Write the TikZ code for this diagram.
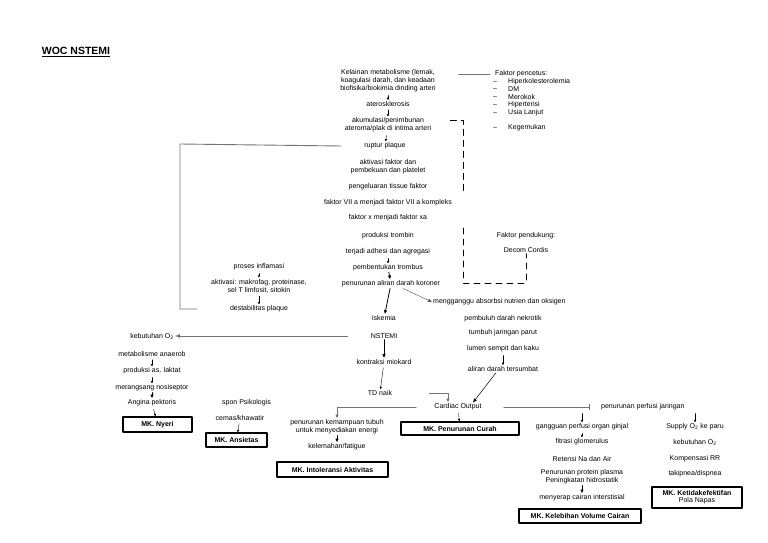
\documentclass[tikz,border=0pt]{standalone}
\usepackage{fontspec}
\setmainfont{Liberation Sans}
\usetikzlibrary{arrows.meta}
\usetikzlibrary{calc}

\begin{document}
\begin{tikzpicture}[line cap=round,line join=round,>={Latex[length=4pt,width=3.5pt]},x=1pt,y=-1pt,
  txt/.style={font=\fontsize{7}{8}\selectfont,align=center,inner sep=1pt},
  mkbox/.style={draw,line width=1.2pt,font=\fontsize{7}{8}\selectfont\bfseries,align=center,inner sep=1pt},
  gline/.style={draw=black!55,line width=0.9pt},
  dline/.style={line width=0.8pt,dash pattern=on 6pt off 5pt},
  tinytip/.style={-{Latex[length=2.5pt,width=2.5pt]},line width=0.4pt,shorten <=2pt}]
\useasboundingbox (0,0) rectangle (768,543);
%\draw[red] (0,0) rectangle (768,543);
\node[font=\fontsize{10.5}{11}\selectfont\bfseries,inner sep=0pt] (title) at (76,52) {\underline{WOC NSTEMI}};

% jalur utama
\node[txt] (kelainan) at (388,81) {Kelainan metabolisme (lemak,\\koagulasi darah, dan keadaan\\biofisika/biokimia dinding arteri};
\node[txt] (ateros) at (388,104) {aterosklerosis};
\node[txt] (akumulasi) at (388,125) {akumulasi/penimbunan\\ateroma/plak di intima arteri};
\node[txt] (ruptur) at (385,146) {ruptur plaque};
\node[txt] (aktivasi) at (388,167) {aktivasi faktor dan\\pembekuan dan platelet};
\node[txt] (tissue) at (388,187) {pengeluaran tissue faktor};
\node[txt] (faktorVII) at (388,203) {faktor VII a menjadi faktor VII a  kompleks};
\node[txt] (faktorX) at (388,218) {faktor x menjadi faktor xa};
\node[txt] (trombin) at (388,236) {produksi  trombin};
\node[txt] (adhesi) at (388,252) {terjadi adhesi dan agregasi};
\node[txt] (trombus) at (388,268) {pembentukan trombus};
\node[txt] (aliran) at (391,284) {penurunan aliran darah koroner};
\node[txt] (iskemia) at (384,318) {iskemia};
\node[txt] (nstemi) at (384,336) {NSTEMI};
\node[txt] (kontraksi) at (384,362) {kontraksi miokard};
\node[txt] (tdnaik) at (380,393) {TD naik};

% faktor pencetus / pendukung
\node[txt,anchor=west] (pencetus) at (494,74) {Faktor pencetus:};
\foreach \y/\isi in {82/Hiperkolesterolemia,89/DM,97/Merokok,105/Hipertensi,113/Usia Lanjut,128/Kegemukan}{
  \node[txt,anchor=west] at (492,\y) {--};
  \node[txt,anchor=west] at (507,\y) {\isi};
}
\node[txt] (pendukung) at (526,236) {Faktor pendukung:};
\node[txt] (decom) at (526,250) {Decom Cordis};

% kiri
\node[txt] (inflamasi) at (259,267) {proses inflamasi};
\node[txt] (makrofag) at (259,286) {aktivasi: makrofag, proteinase,\\sel  T limfosit, sitokin};
\node[txt] (destab) at (259,309) {destabilitas plaque};
\node[txt] (kebO2) at (152,336) {kebutuhan O\textsubscript{2}};
\node[txt] (anaerob) at (152,354) {metabolisme anaerob};
\node[txt] (laktat) at (152,371) {produksi as. laktat};
\node[txt] (nosiseptor) at (152,388) {merangsang nosiseptor};
\node[txt] (angina) at (152,403) {Angina pektoris};
\node[mkbox,minimum width=69,minimum height=15] (nyeri) at (157.5,424.5) {MK. Nyeri};
\node[txt,anchor=west] (psikologis) at (221,403) {spon Psikologis};
\node[txt] (cemas) at (240,418) {cemas/khawatir};
\node[mkbox,minimum width=61,minimum height=14] (ansietas) at (236.5,440) {MK. Ansietas};
\node[txt] (kemampuan) at (337,427) {penurunan kemampuan tubuh\\untuk menyediakan energi};
\node[txt] (kelemahan) at (337,447) {kelemahan/fatigue};
\node[mkbox,minimum width=111,minimum height=15] (intoleransi) at (332.5,469.5) {MK. Intoleransi Aktivitas};

% kanan
\node[txt,anchor=west] (mengganggu) at (432,302) {mengganggu absorbsi nutrien dan oksigen};
\node[txt] (nekrotik) at (503,319) {pembuluh darah nekrotik};
\node[txt] (parut) at (503,333) {tumbuh jaringan parut};
\node[txt] (lumen) at (503,349) {lumen sempit dan kaku};
\node[txt] (tersumbat) at (503,369) {aliran darah tersumbat};
\node[txt] (cardiac) at (458,407) {Cardiac Output};
\node[mkbox,minimum width=118,minimum height=13] (curah) at (460,428.5) {MK. Penurunan  Curah};
\node[txt,anchor=west] (perfusi) at (600,407) {penurunan perfusi jaringan};
\node[txt] (ginjal) at (582,427) {gangguan perfusi organ ginjal};
\node[txt] (glomerulus) at (582,442) {fitrasi glomerulus};
\node[txt] (retensi) at (582,459) {Retensi  Na dan Air};
\node[txt] (protein) at (582,477) {Penurunan protein plasma\\Peningkatan hidrostatik};
\node[txt] (menyerap) at (582,498) {menyerap cairan  interstisial};
\node[mkbox,minimum width=122,minimum height=14] (cairan) at (580,516) {MK. Kelebihan Volume Cairan};
\node[txt] (supply) at (695,427) {Supply O\textsubscript{2} ke paru};
\node[txt] (kebO2b) at (695,442) {kebutuhan O\textsubscript{2}};
\node[txt] (rr) at (695,459) {Kompensasi RR};
\node[txt] (takipnea) at (695,474) {takipnea/dispnea};
\node[mkbox,minimum width=90,minimum height=21] (napas) at (697,497.5) {MK. Ketidakefektifan\\[-1pt]{\mdseries Pola Napas}};

% panah
\draw[->,line width=0.8pt] (trombus) -- (aliran);
\draw[->,line width=0.8pt] (aliran) -- (iskemia);
\draw[->,line width=0.8pt] (nstemi) -- (kontraksi);
\draw[->,line width=0.8pt] (nosiseptor) -- (angina);
\draw[->,line width=0.8pt] (kemampuan) -- (kelemahan);
\draw[->,line width=0.8pt] (protein) -- (menyerap);
\draw[gline,-{Latex[length=5pt,width=4pt]},shorten <=22pt] (nstemi) -- (kebO2);
\draw[gline,->,shorten <=17pt] (cardiac.west) -| (kemampuan.north);
\draw[gline,-{Bar[width=6pt]},shorten <=21pt,shorten >=10pt] (cardiac.east) -- (perfusi.west);
\draw[gline,->,shorten <=36pt] (tdnaik.east) -| ([xshift=-10pt]cardiac.north);
\draw[->,line width=0.5pt] ([xshift=-7pt]tersumbat.south) -- ([xshift=15pt]cardiac.north);
\draw[->,line width=0.4pt,black!70] ([xshift=12pt]aliran.south) -- (mengganggu.west);

\coordinate (rupL) at (180,144);
\draw[gline] ([xshift=-22pt]ruptur.west) -- (rupL) |- ([xshift=-32pt]destab.west);
\draw[gline] ([xshift=22pt]kelainan.east |- pencetus.west) -- ([xshift=-4pt]pencetus.west);

% garis putus-putus
\coordinate (dTop) at (463,120);
\coordinate (dGap1) at (463,195);
\coordinate (dGap2) at (463,228);
\coordinate (dBot) at (463,283);
\draw[dline] ([xshift=18pt]akumulasi.east |- dTop) -- (dTop) -- (dGap1);
\draw[dline] (dGap2) -- (dBot) -- (decom.south |- dBot) -- (decom.south);

\begin{scriptsize}
\foreach \a/\b in {kelainan/ateros,ateros/akumulasi,akumulasi/ruptur,adhesi/trombus,kontraksi/tdnaik,
  anaerob/laktat,laktat/nosiseptor,angina/nyeri,inflamasi/makrofag,makrofag/destab,cemas/ansietas,
  cardiac/curah,ginjal/glomerulus,lumen/tersumbat}
  \draw[tinytip] (\a) -- (\b);
\draw[tinytip] (perfusi.south -| ginjal.north) -- (ginjal.north);
\draw[tinytip] (perfusi.south -| supply.north) -- (supply.north);
\end{scriptsize}
\end{tikzpicture}
\end{document}
